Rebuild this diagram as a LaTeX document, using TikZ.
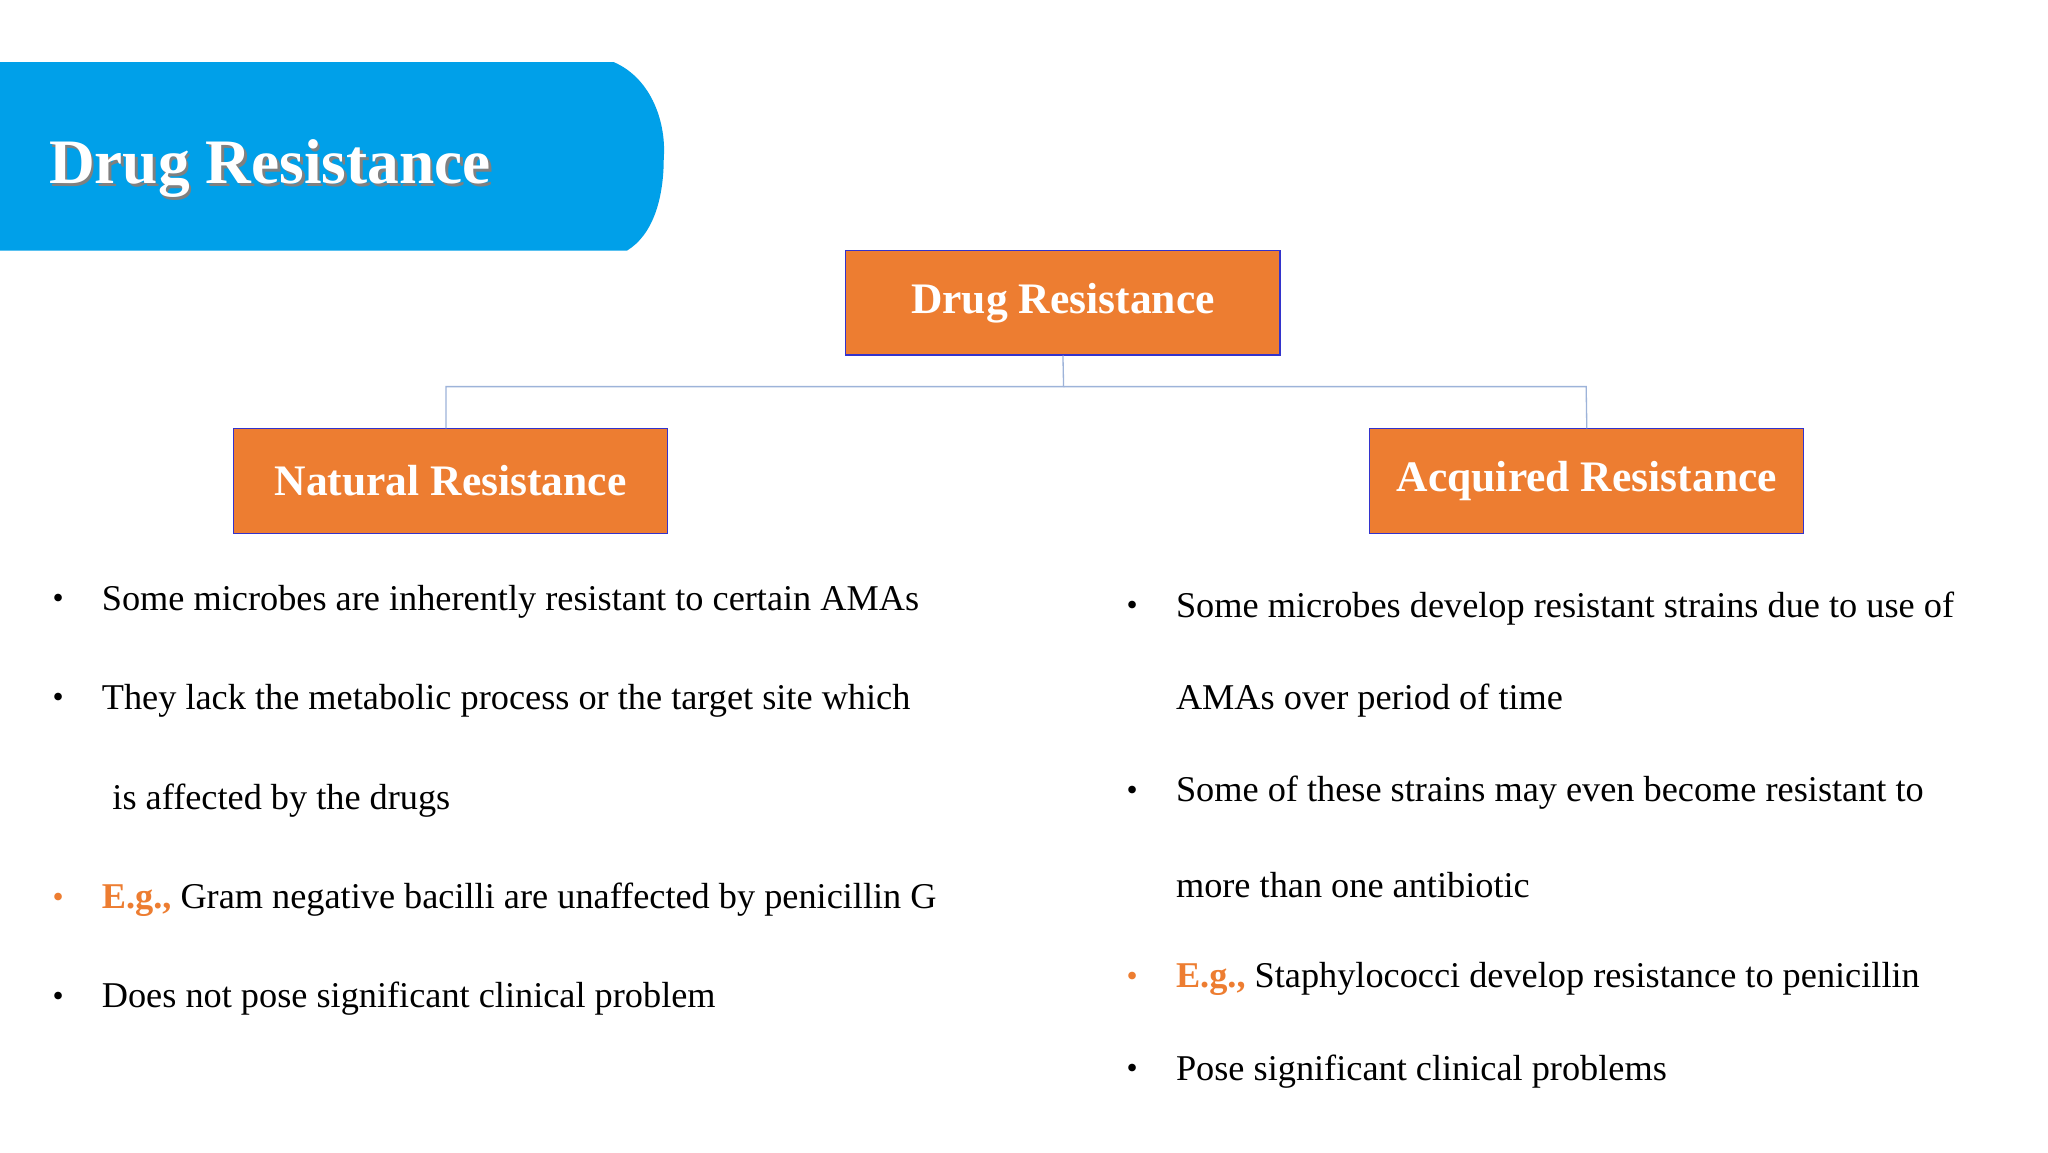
\documentclass[tikz,border=0pt]{standalone}
\usepackage{fontspec}
\setmainfont{Liberation Serif}
\begin{document}
\begin{tikzpicture}[x=1pt,y=-1pt,
  obox/.style={draw=blue!60!gray, line width=0.8pt, fill=orange1, minimum width=329pt, minimum height=79pt, text=white, font=\fontsize{33}{36}\selectfont\bfseries, inner sep=0pt},
  txt/.style={anchor=west, inner sep=0pt, font=\fontsize{27.5}{30}\selectfont},
  bul/.style={anchor=center, inner sep=0pt, font=\fontsize{24}{26}\selectfont},
  conn/.style={draw=linec, line width=1pt}]
\definecolor{orange1}{HTML}{ED7D31}
\definecolor{blue1}{HTML}{00A0E9}
\definecolor{linec}{HTML}{9DB3D9}
\useasboundingbox (0,0) rectangle (1552,873);
\fill[white] (0,0) rectangle (1552,873);
\fill[blue1] (0,47) -- (465,47) .. controls (495,60) and (505,95) .. (503,120) .. controls (503,150) and (495,178) .. (475,190) -- (0,190) -- cycle;
\node[anchor=west, text=black!50, inner sep=0pt, font=\fontsize{48}{52}\selectfont\bfseries] at (39,130) {Drug Resistance};
\node[anchor=west, text=white, inner sep=0pt, font=\fontsize{48}{52}\selectfont\bfseries] (title) at (37,128) {Drug Resistance};
\node[obox] (top) at (805.5,229.5) {Drug Resistance};
\node[obox] (nat) at (341.5,364.5) {Natural Resistance};
\node[obox] (acq) at (1202.5,364.5) {Acquired Resistance};
\coordinate (mid) at (806,293);
\draw[conn] (top.south) -- (mid) -- (338,293) -- (nat.north -| 338,0);
\draw[conn] (mid) -- (1202,293) -- (acq.north);
\foreach \y/\c in {456/black,531/black,682/orange1,757/black} \node[bul,text=\c] at (44,\y) {•};
\node[txt] (l1) at (77,456) {Some microbes are inherently resistant to certain AMAs};
\node[txt] (l2) at (77,531) {They lack the metabolic process or the target site which};
\node[txt] (l3) at (85,607) {is affected by the drugs};
\node[txt] (l4) at (77,682) {\textcolor{orange1}{\bfseries E.g.,} Gram negative bacilli are unaffected by penicillin G};
\node[txt] (l5) at (77,757) {Does not pose significant clinical problem};
\foreach \y/\c in {461/black,601/black,742/orange1,812/black} \node[bul,text=\c] at (858,\y) {•};
\node[txt] (r1) at (891,461) {Some microbes develop resistant strains due to use of};
\node[txt] (r2) at (891,531) {AMAs over period of time};
\node[txt] (r3) at (891,601) {Some of these strains may even become resistant to};
\node[txt] (r4) at (891,671) {more than one antibiotic};
\node[txt] (r5) at (891,742) {\textcolor{orange1}{\bfseries E.g.,} Staphylococci develop resistance to penicillin};
\node[txt] (r6) at (891,812) {Pose significant clinical problems};
\end{tikzpicture}
\end{document}
